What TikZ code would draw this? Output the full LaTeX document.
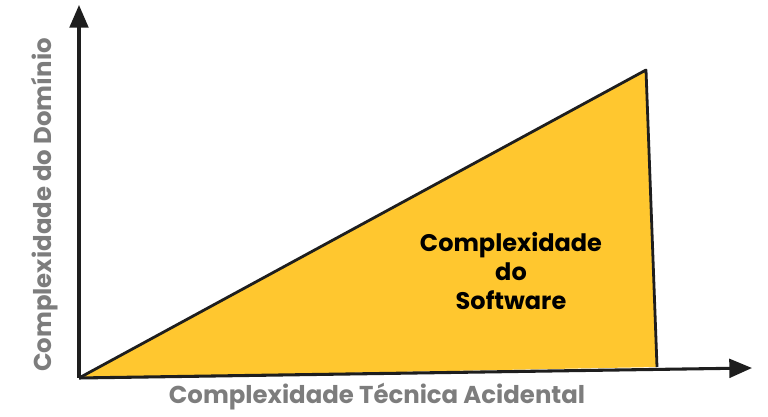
\documentclass[tikz,border=0pt]{standalone}
\usepackage{fontspec}
\setmainfont{Poppins}
\usetikzlibrary{arrows.meta}
\definecolor{softyellow}{HTML}{FFC72F}
\definecolor{labelgray}{HTML}{7D7D7D}
\definecolor{inkblack}{HTML}{1E1E1E}
\tikzset{
  axis/.style={draw=inkblack, line width=2.3pt, -{Triangle[length=17pt,width=14pt]}},
  edge/.style={draw=inkblack, line width=2.1pt, line join=round},
  axislabel/.style={text=labelgray, font=\fontsize{18.3}{20}\selectfont\bfseries},
  arealabel/.style={text=black, align=center, font=\fontsize{18}{21.5}\selectfont\bfseries}
}
\begin{document}
\begin{tikzpicture}[x=0.75pt,y=0.75pt]
                \useasboundingbox (0,0) rectangle (768,417);
                \coordinate (O) at (79,39);
                \coordinate (Ytop) at (79,412);
                \coordinate (Xend) at (752,49);
                \coordinate (Apex) at (646,347);
                \coordinate (Corner) at (657,50);
                \fill[softyellow] (O) -- (Apex) -- (Corner) -- cycle;
                \draw[edge] (O) -- (Apex) -- (Corner);
                \draw[axis] (O) -- (Xend);
                \draw[axis] (O) -- (Ytop);
                \node[arealabel] (area) at (511,146) {Complexidade\\do\\Software};
                \node[axislabel] (xlabel) at (377,20) {Complexidade Técnica Acidental};
                \node[axislabel, rotate=90] (ylabel) at (45,212) {Complexidade do Domínio};
\end{tikzpicture}
\end{document}
